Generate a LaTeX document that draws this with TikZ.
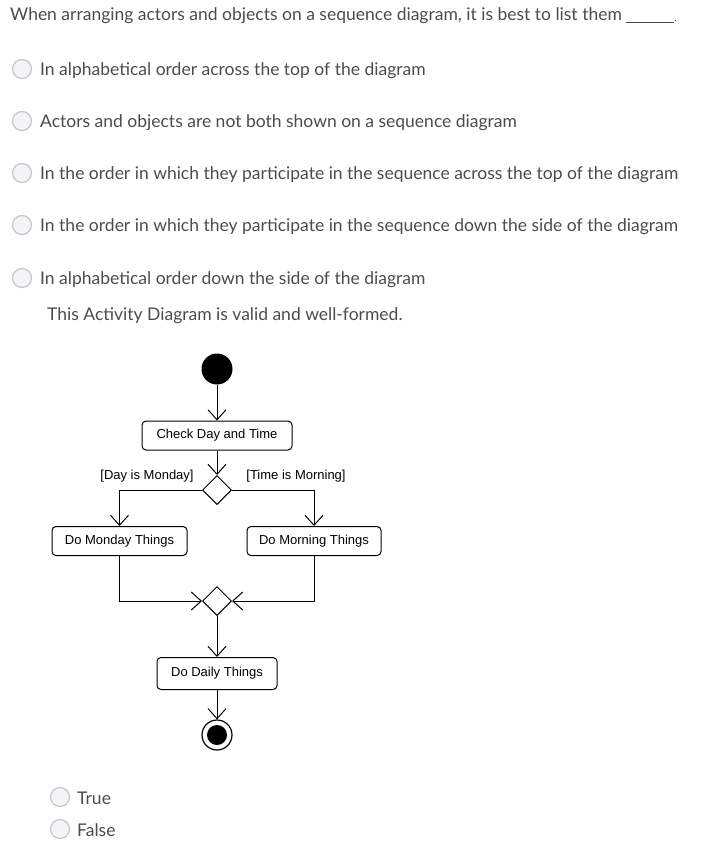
\documentclass[tikz,border=0pt]{standalone}
\usepackage{fontspec}
\setmainfont{Lato}
\newfontfamily\diafont{Liberation Sans}
\usetikzlibrary{arrows.meta,shapes.geometric}
\definecolor{txt}{HTML}{494C4E}
\definecolor{radiofill}{HTML}{F3F4F7}
\definecolor{radioline}{HTML}{C4C7CF}
\tikzset{
  q/.style={anchor=west,inner sep=0,text=txt,font=\fontsize{17.5}{20}\selectfont},
  radio/.style={circle,draw=radioline,fill=radiofill,line width=1.2,minimum size=19,inner sep=0},
  act/.style={draw,rounded corners=4,line width=1,minimum height=29,inner sep=0,font=\diafont\fontsize{13}{15}\selectfont},
  dec/.style={draw,diamond,line width=1,minimum size=29,inner sep=0},
  lbl/.style={inner sep=0,font=\diafont\fontsize{13}{15}\selectfont},
  flow/.style={line width=1,-{Straight Barb[length=10,width=18,line width=1]}}
}
\begin{document}
\begin{tikzpicture}[x=1pt,y=-1pt]
\useasboundingbox (0,0) rectangle (722,850);
\node[q] (qt) at (10,16) {When arranging actors and objects on a sequence diagram, it is best to list them};
\draw[txt,line width=0.8] (626,22) -- (674,22) node[inner sep=0,anchor=south west,text=txt] (dot) {.};
\foreach \y/\t/\n in {69/In alphabetical order across the top of the diagram/a,
 121/Actors and objects are not both shown on a sequence diagram/b,
 173/In the order in which they participate in the sequence across the top of the diagram/c,
 225/In the order in which they participate in the sequence down the side of the diagram/d,
 278/In alphabetical order down the side of the diagram/e}{
  \node[radio] (r\n) at (22,\y) {};
  \node[q] (t\n) at (40,\y+1.5) {\t};
}
\node[q] (stmt) at (47,315.5) {This Activity Diagram is valid and well-formed.};
% diagram
\node[circle,fill=black,minimum size=31,inner sep=0] (start) at (217,369) {};
\node[act,minimum width=150] (check) at (217,435.5) {Check Day and Time};
\node[dec] (d1) at (217,490) {};
\node[lbl] (l1) at (147,476) {[Day is Monday]};
\node[lbl] (l2) at (296,476) {[Time is Morning]};
\node[act,minimum width=135] (mon) at (119.5,541) {Do Monday Things};
\node[act,minimum width=134] (morn) at (314,541) {Do Morning Things};
\node[dec] (d2) at (217,601) {};
\node[act,minimum width=120,minimum height=32] (daily) at (217,673.5) {Do Daily Things};
\node[circle,draw,line width=1.2,minimum size=30,inner sep=0] (end) at (217,735) {};
\node[circle,fill=black,minimum size=20,inner sep=0] (endin) at (217,735) {};
\draw[flow] (start) -- (check);
\draw[flow] (check) -- (d1);
\draw[flow] (d1.west) -| (mon.north);
\draw[flow] (d1.east) -| (morn.north);
\draw[flow] (mon.south) |- (d2.west);
\draw[flow] (morn.south) |- (d2.east);
\draw[flow] (d2) -- (daily);
\draw[flow] (daily) -- (end);
\node[radio] (rt) at (60,797) {};
\node[q] (tt) at (77,798.5) {True};
\node[radio] (rf) at (60,829) {};
\node[q] (tf) at (77,830.5) {False};
\end{tikzpicture}
\end{document}
